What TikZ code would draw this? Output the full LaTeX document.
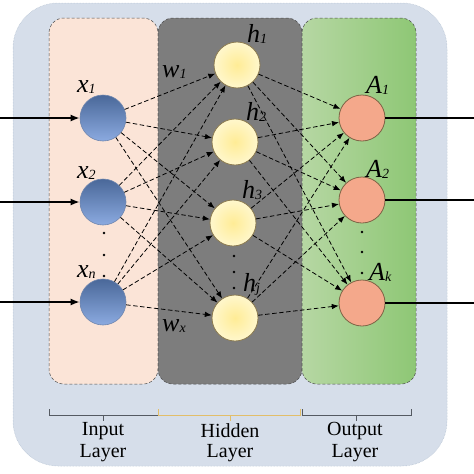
\documentclass[tikz,border=0pt]{standalone}
\usepackage{fontspec}
\setmainfont{Liberation Serif}
\usetikzlibrary{arrows.meta,shadings}
\definecolor{outerbg}{HTML}{D6DEEA}
\definecolor{outerln}{HTML}{AEBCCD}
\definecolor{inputbg}{HTML}{FBE4D7}
\definecolor{hidbg}{HTML}{7D7D7D}
\definecolor{outL}{HTML}{B6D7A3}
\definecolor{outR}{HTML}{8EC775}
\definecolor{bluetop}{HTML}{4A6899}
\definecolor{bluebot}{HTML}{8BAAE0}
\definecolor{blueln}{HTML}{6F86AE}
\definecolor{yelin}{HTML}{FFEC96}
\definecolor{yelout}{HTML}{FFF7CC}
\definecolor{yelln}{HTML}{8C7B50}
\definecolor{salmon}{HTML}{F4A88B}
\definecolor{salmonln}{HTML}{7E6446}
\definecolor{brgray}{HTML}{555A62}
\definecolor{brgold}{HTML}{E2BE6A}
\definecolor{panelln}{HTML}{4A4A4A}
\newcommand\nlab[2]{{\fontsize{26}{26}\selectfont\itshape #1\raisebox{-1.5pt}{\fontsize{14}{14}\selectfont #2}}}
\begin{document}
\begin{tikzpicture}[x=1pt,y=-1pt,
  panel/.style={draw=panelln,densely dashed,line width=0.5pt,rounded corners=15pt},
  inneuron/.style={circle,minimum size=46pt,inner sep=0pt,top color=bluetop,bottom color=bluebot,draw=blueln,line width=0.6pt},
  hidneuron/.style={circle,minimum size=46pt,inner sep=0pt,inner color=yelin,outer color=yelout,draw=yelln,line width=0.8pt},
  outneuron/.style={circle,minimum size=46pt,inner sep=0pt,fill=salmon,draw=salmonln,line width=0.8pt},
  conn/.style={draw=black,line width=0.8pt,dash pattern=on 4.5pt off 2.5pt,-{Latex[length=7pt,width=5.5pt]}},
  ioline/.style={line width=1.7pt,black},
  lab/.style={inner sep=0pt,anchor=base west},
  ldot/.style={circle,fill=black,inner sep=0pt,minimum size=2.6pt},
  laytext/.style={inner sep=0pt,font=\fontsize{20}{20}\selectfont},
  bracket/.style={line width=0.9pt}]
\useasboundingbox (0,0) rectangle (474,474);
% outer box
\draw[fill=outerbg,draw=outerln,densely dotted,line width=0.5pt,rounded corners=45pt] (13,3) rectangle (447,466);
% panels
\path[panel,fill=inputbg] (49,18) rectangle (158,384);
\path[panel,fill=hidbg] (158,18) rectangle (302,384);
\path[panel,left color=outL,right color=outR] (302,18) rectangle (416,384);
% neurons
\node[inneuron] (x1) at (103,118) {};
\node[inneuron] (x2) at (103,202) {};
\node[inneuron] (xn) at (103,302) {};
\node[hidneuron] (h1) at (237,65) {};
\node[hidneuron] (h2) at (235,142) {};
\node[hidneuron] (h3) at (233,223) {};
\node[hidneuron] (hj) at (235,318) {};
\node[outneuron] (A1) at (362,118) {};
\node[outneuron] (A2) at (362,200) {};
\node[outneuron] (Ak) at (362,303) {};
% connections
\foreach \i in {x1,x2,xn}{\foreach \j in {h1,h2,h3,hj}{\draw[conn] (\i) -- (\j);}}
\foreach \j in {h1,h2,h3,hj}{\foreach \k in {A1,A2,Ak}{\draw[conn] (\j) -- (\k);}}
% input / output lines
\coordinate (i1) at (0,118); \coordinate (i2) at (0,202); \coordinate (i3) at (0,302);
\coordinate (o1) at (474,118); \coordinate (o2) at (474,200); \coordinate (o3) at (474,303);
\draw[ioline,-{Latex[length=9pt,width=7pt]}] (i1) -- (x1);
\draw[ioline,-{Latex[length=9pt,width=7pt]}] (i2) -- (x2);
\draw[ioline,-{Latex[length=9pt,width=7pt]}] (i3) -- (xn);
\draw[ioline] (A1) -- (o1);
\draw[ioline] (A2) -- (o2);
\draw[ioline] (Ak) -- (o3);
% labels
\node[lab] (lx1) at (77,92) {\nlab{x}{1}};
\node[lab] (lx2) at (77,178) {\nlab{x}{2}};
\node[lab] (lxn) at (77,277) {\nlab{x}{n}};
\node[lab] (lh1) at (247,42) {\nlab{h}{1}};
\node[lab] (lh2) at (246,120) {\nlab{h}{2}};
\node[lab] (lh3) at (242,198) {\nlab{h}{3}};
\node[lab] (lhj) at (243,291) {\nlab{h}{j}};
\node[lab] (lw1) at (162,77) {\nlab{w}{1}};
\node[lab] (lwx) at (162,331) {\nlab{w}{x}};
\node[lab] (lA1) at (366,93) {\nlab{A}{1}};
\node[lab] (lA2) at (366,177) {\nlab{A}{2}};
\node[lab] (lAk) at (369,280) {\nlab{A}{k}};
% dots
\node[ldot] (d1) at (104,233) {};
\node[ldot] (d2) at (104,255) {};
\node[ldot] (d3) at (104,276) {};
\node[ldot] (d4) at (234,256) {};
\node[ldot] (d5) at (234,272) {};
\node[ldot] (d6) at (234,288) {};
\node[ldot] (d7) at (362,232) {};
\node[ldot] (d8) at (362,252) {};
\node[ldot] (d9) at (362,273) {};
% brackets
\draw[bracket,brgray] (49,409) -- (49,415) -- (158,415) -- (158,409);
\draw[bracket,brgray] (103,415) -- (103,421);
\draw[bracket,brgold] (158,409) -- (158,415) -- (300,415) -- (300,409);
\draw[bracket,brgold] (230,415) -- (230,421);
\draw[bracket,brgray] (302,409) -- (302,415) -- (411,415) -- (411,409);
\draw[bracket,brgray] (356,415) -- (356,421);
% layer labels
\node[laytext] (t1) at (103,431) {Input};
\node[laytext] (t2) at (103,453) {Layer};
\node[laytext] (t3) at (230,431) {Hidden};
\node[laytext] (t4) at (230,453) {Layer};
\node[laytext] (t5) at (355,431) {Output};
\node[laytext] (t6) at (355,453) {Layer};
\end{tikzpicture}
\end{document}
